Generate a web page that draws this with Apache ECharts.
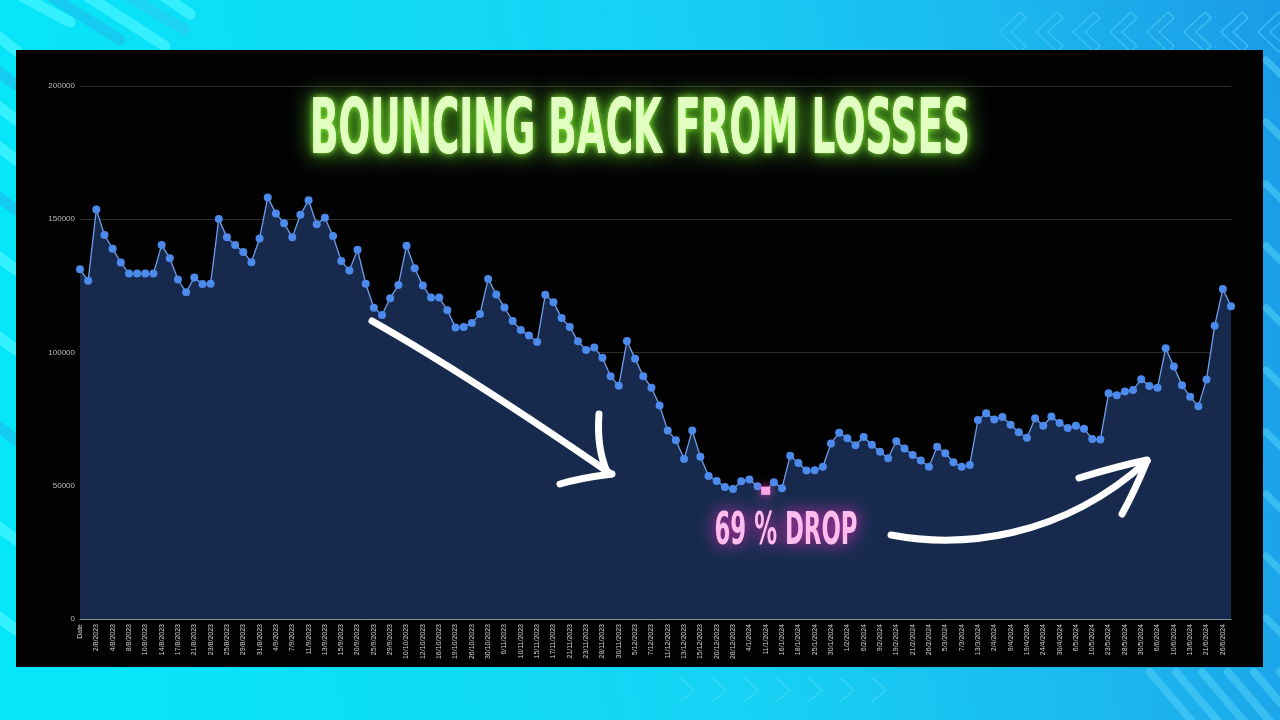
<!DOCTYPE html>
<html>
<head>
<meta charset="utf-8">
<script src="https://cdn.jsdelivr.net/npm/echarts@6/dist/echarts.min.js"></script>
<style>
html,body{margin:0;padding:0;background:#000;}
#chart{width:1280px;height:720px;}
</style>
</head>
<body>
<div id="chart"></div>
<script>
const categories = [
'Date','1/8/2023','2/8/2023','3/8/2023','4/8/2023','7/8/2023','8/8/2023','9/8/2023','10/8/2023','11/8/2023',
'14/8/2023','15/8/2023','17/8/2023','18/8/2023','21/8/2023','22/8/2023','23/8/2023','24/8/2023','25/8/2023','28/8/2023',
'29/8/2023','30/8/2023','31/8/2023','1/9/2023','4/9/2023','5/9/2023','7/9/2023','8/9/2023','11/9/2023','12/9/2023',
'13/9/2023','14/9/2023','15/9/2023','18/9/2023','20/9/2023','22/9/2023','25/9/2023','27/9/2023','29/9/2023','5/10/2023',
'10/10/2023','11/10/2023','12/10/2023','13/10/2023','16/10/2023','18/10/2023','19/10/2023','24/10/2023','26/10/2023','27/10/2023',
'30/10/2023','2/11/2023','6/11/2023','8/11/2023','10/11/2023','13/11/2023','15/11/2023','16/11/2023','17/11/2023','20/11/2023',
'21/11/2023','22/11/2023','23/11/2023','27/11/2023','28/11/2023','29/11/2023','30/11/2023','1/12/2023','5/12/2023','6/12/2023',
'7/12/2023','8/12/2023','11/12/2023','12/12/2023','13/12/2023','14/12/2023','15/12/2023','18/12/2023','20/12/2023','22/12/2023',
'28/12/2023','2/1/2024','4/1/2024','8/1/2024','11/1/2024','15/1/2024','16/1/2024','17/1/2024','18/1/2024','22/1/2024',
'25/1/2024','29/1/2024','30/1/2024','31/1/2024','1/2/2024','5/2/2024','6/2/2024','8/2/2024','9/2/2024','15/2/2024',
'19/2/2024','20/2/2024','21/2/2024','23/2/2024','26/2/2024','29/2/2024','5/3/2024','6/3/2024','7/3/2024','11/3/2024',
'13/3/2024','25/3/2024','2/4/2024','5/4/2024','9/4/2024','15/4/2024','19/4/2024','22/4/2024','24/4/2024','26/4/2024',
'30/4/2024','2/5/2024','6/5/2024','8/5/2024','10/5/2024','20/5/2024','23/5/2024','27/5/2024','28/5/2024','29/5/2024',
'30/5/2024','3/6/2024','6/6/2024','7/6/2024','10/6/2024','12/6/2024','13/6/2024','18/6/2024','21/6/2024','24/6/2024',
'26/6/2024','28/6/2024'
];
const values = [
131200,126900,153700,144100,138900,133800,129600,129600,129600,129600,
140300,135400,127400,122600,128100,125700,125800,150100,143200,140300,
137700,133900,142800,158200,152200,148500,143200,151700,157100,148100,
150600,143700,134300,130800,138600,125800,116800,114100,120400,125300,
140100,131600,125100,120600,120600,115900,109400,109600,111100,114400,
127600,121800,116900,111800,108400,106400,103900,121700,118900,112900,
109600,104200,100900,101900,98000,91100,87500,104300,97700,91100,
86800,80100,70700,67100,60000,70700,60900,53700,51800,49500,
48800,51700,52300,49800,48100,51300,49100,61300,58500,55700,
55800,57100,65900,69900,67800,65200,68300,65400,62800,60300,
66700,64000,61500,59500,57100,64600,62200,58800,57100,57800,
74700,77200,74900,75800,72900,70100,68000,75300,72500,76000,
73500,71700,72500,71400,67500,67400,84700,84000,85400,85900,
90000,87400,86800,101600,94700,87700,83400,79800,89900,110000,
123800,117400
];
const titleText = 'BOUNCING BACK FROM LOSSES';
const dropText = '69 % DROP';
const yMin = 0, yMax = 200000, yStep = 50000;

function fitScale(text, font, target) {
  const c = document.createElement('canvas').getContext('2d');
  c.font = font;
  return target / c.measureText(text).width;
}

const minVal = Math.min.apply(null, values);
const minIdx = values.indexOf(minVal);
const seriesData = values.map(function (v, i) {
  if (i === minIdx) {
    return {
      value: v, symbol: 'rect', symbolSize: [9, 8],
      itemStyle: { color: '#ffa6e4', shadowBlur: 10, shadowColor: '#ff40c8' }
    };
  }
  return v;
});

const titleFont = 'bold 76px "DejaVu Sans Condensed", "Liberation Sans Narrow", sans-serif';
const titleScale = fitScale(titleText, titleFont, 660);
const dropFont = 'bold 44px "DejaVu Sans Condensed", "Liberation Sans Narrow", sans-serif';
const dropScale = fitScale(dropText, dropFont, 143);

const G = echarts.graphic;
const deco = [];
// background
deco.push({ type: 'rect', z: -100, shape: { x: 0, y: 0, width: 1280, height: 720 },
  style: { fill: new G.LinearGradient(0, 0.3, 1, 0, [
    { offset: 0, color: '#06e6f9' }, { offset: 0.5, color: '#16d2f4' }, { offset: 0.8, color: '#1cb6ee' }, { offset: 1, color: '#1b9ae6' }]) } });
// top-left stripes
[[10,-10,70,22,'#3ef4ff'],[38,-12,120,40,'#19c6ee'],[78,-10,165,46,'#3ef4ff'],[118,-10,185,30,'#22d0f2'],[158,-8,190,14,'#3ef4ff'],
 [-10,30,18,52,'#3ef4ff'],[-10,65,16,85,'#19c6ee'],[-10,100,16,120,'#3ef4ff'],[-10,140,16,160,'#3ef4ff'],[-10,190,16,210,'#19c6ee'],
 [-10,250,16,270,'#3ef4ff'],[-10,330,16,350,'#3ef4ff'],[-10,420,16,440,'#19c6ee'],[-10,520,16,540,'#3ef4ff'],[-10,610,16,630,'#3ef4ff']
].forEach(function (s) {
  deco.push({ type: 'line', z: -99, shape: { x1: s[0], y1: s[1], x2: s[2], y2: s[3] },
    style: { stroke: s[4], lineWidth: 11, lineCap: 'round', opacity: 0.8 } });
});
// top-right chevrons
for (let k = 0; k < 8; k++) {
  const x0 = 995 + k * 37;
  deco.push({ type: 'polyline', z: -99, shape: { points: [[x0 + 25, 12], [x0 + 31, 18], [x0 + 16, 32], [x0 + 31, 46], [x0 + 25, 52], [x0 + 4, 32], [x0 + 25, 12]] },
    style: { stroke: '#3fc6f6', lineWidth: 1.5, fill: null, opacity: 0.8 } });
}
// bottom chevrons and stripes
for (let k = 0; k < 7; k++) {
  const x0 = 680 + k * 32;
  deco.push({ type: 'polyline', z: -99, shape: { points: [[x0, 678], [x0 + 14, 690], [x0, 702]] },
    style: { stroke: '#45d8f8', lineWidth: 2, fill: null, opacity: 0.55 } });
}
for (let k = 0; k < 6; k++) {
  const x0 = 1150 + k * 26;
  deco.push({ type: 'line', z: -99, shape: { x1: x0, y1: 672, x2: x0 + 45, y2: 725 },
    style: { stroke: '#4ccdf6', lineWidth: 8, lineCap: 'round', opacity: 0.6 } });
}
for (let k = 0; k < 10; k++) {
  const y0 = 60 + k * 62;
  deco.push({ type: 'line', z: -99, shape: { x1: 1266, y1: y0, x2: 1290, y2: y0 + 24 },
    style: { stroke: '#4ccdf6', lineWidth: 7, lineCap: 'round', opacity: 0.6 } });
}
// black panel
deco.push({ type: 'rect', z: -90, shape: { x: 16, y: 50, width: 1247, height: 617 }, style: { fill: '#020203' } });

// title glow
deco.push({ type: 'text', z: 100, x: 640, y: 133, scaleX: titleScale, originX: 0, originY: 0,
  style: { text: titleText, x: 0, y: 0, font: titleFont, fill: '#dcffb4', align: 'center', verticalAlign: 'middle',
    textAlign: 'center', textVerticalAlign: 'middle', textShadowColor: 'rgba(110,255,40,0.95)', textShadowBlur: 22 } });
deco.push({ type: 'text', z: 101, x: 640, y: 133, scaleX: titleScale, originX: 0, originY: 0,
  style: { text: titleText, x: 0, y: 0, font: titleFont, fill: '#e2ffc2', align: 'center', verticalAlign: 'middle',
    textAlign: 'center', textVerticalAlign: 'middle', textShadowColor: 'rgba(150,255,60,0.9)', textShadowBlur: 6 } });
// drop text glow
deco.push({ type: 'text', z: 100, x: 786, y: 533, scaleX: dropScale, originX: 0, originY: 0,
  style: { text: dropText, x: 0, y: 0, font: dropFont, fill: '#ffbdee', align: 'center', verticalAlign: 'middle',
    textAlign: 'center', textVerticalAlign: 'middle', textShadowColor: 'rgba(255,50,200,0.95)', textShadowBlur: 16 } });

// hand-drawn arrows (bezier strokes)
const arrowStyle = { stroke: '#ffffff', lineWidth: 7, lineCap: 'round', lineJoin: 'round', fill: null };
function stroke(x1, y1, cx1, cy1, cx2, cy2, x2, y2) {
  deco.push({ type: 'bezierCurve', z: 102,
    shape: { x1: x1, y1: y1, cpx1: cx1, cpy1: cy1, cpx2: cx2, cpy2: cy2, x2: x2, y2: y2 },
    style: arrowStyle });
}
stroke(372, 321, 450, 365, 540, 425, 611, 474);
stroke(599, 414, 597, 440, 601, 458, 607, 472);
stroke(560, 484, 580, 478, 596, 476, 612, 474);
stroke(891, 535, 960, 548, 1060, 540, 1147, 461);
stroke(1079, 478, 1105, 470, 1128, 464, 1147, 460);
stroke(1122, 514, 1132, 496, 1140, 478, 1147, 461);

const chart = echarts.init(document.getElementById('chart'), null, { renderer: 'canvas' });
chart.setOption({
  animation: false,
  backgroundColor: 'transparent',
  grid: { left: 80, right: 49, top: 86, bottom: 101 },
  xAxis: {
    type: 'category', data: categories, boundaryGap: false,
    axisLine: { lineStyle: { color: '#8a8f99', width: 1 } },
    axisTick: { show: false },
    axisLabel: { rotate: 90, interval: 1, fontSize: 7, color: '#cfcfcf', margin: 5, fontFamily: 'Liberation Sans, Arial, sans-serif' },
    splitLine: { show: false }
  },
  yAxis: {
    type: 'value', min: yMin, max: yMax, interval: yStep,
    axisLine: { show: false }, axisTick: { show: false },
    axisLabel: { fontSize: 8, color: '#b8b8b8', margin: 5, fontFamily: 'Liberation Sans, Arial, sans-serif',
      formatter: function (v) { return String(v); } },
    splitLine: { lineStyle: { color: '#2e2e30', width: 1 } }
  },
  series: [{
    type: 'line', data: seriesData, showAllSymbol: true,
    symbol: 'circle', symbolSize: 8,
    itemStyle: { color: '#4c8aeb' },
    lineStyle: { color: '#6e9fea', width: 1.3 },
    areaStyle: { color: '#172a4e', opacity: 1 },
    z: 3
  }],
  graphic: { elements: deco }
});
</script>
</body>
</html>
